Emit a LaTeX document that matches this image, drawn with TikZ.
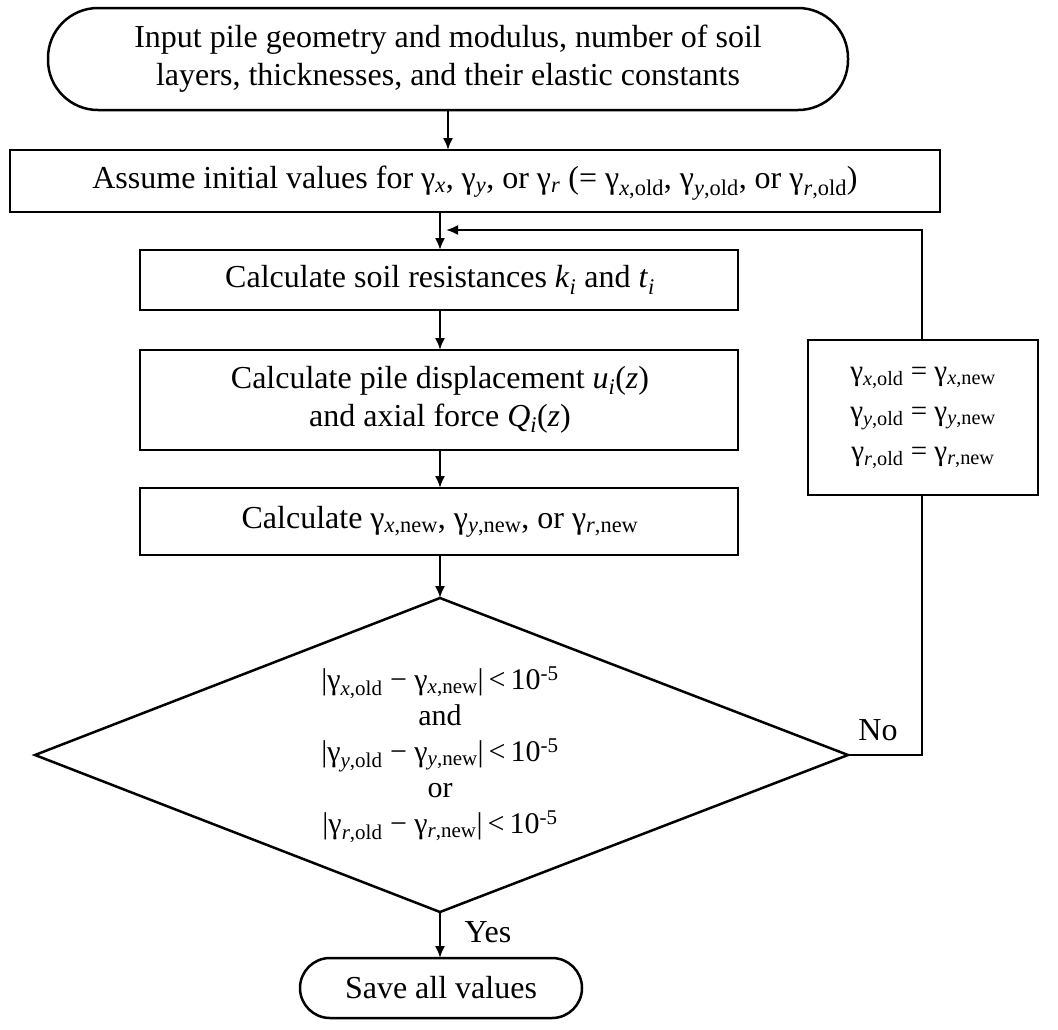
\documentclass[tikz,border=0pt]{standalone}
\usepackage{fontspec}
\setmainfont{Liberation Serif}
\usetikzlibrary{shapes.geometric,arrows.meta}
\newcommand{\gsub}[2]{γ\textsubscript{\textit{#1}#2}}
\newcommand{\sml}{\,<\,10\textsuperscript{-5}}
\begin{document}
\begin{tikzpicture}[x=1pt,y=-1pt,
  box/.style={draw,line width=2.5pt,inner sep=0pt},
  term/.style={draw,line width=2.5pt,rounded corners=30pt},
  arr/.style={line width=2pt,-{Latex[length=12pt,width=10pt]}},
  ln/.style={line width=2pt},
  txt/.style={font=\fontsize{32}{38}\selectfont,align=center}]
\useasboundingbox (0,0) rectangle (1058,1029);
\draw[term,rounded corners=50pt] (48,8) rectangle (848,110);
\node[txt] (n1) at (448,59) {Input pile geometry and modulus, number of soil\\layers, thicknesses, and their elastic constants};
\coordinate (b1) at (448,110);
\draw[box] (10,150) rectangle (940,212);
\node[txt] (n2) at (475,183) {Assume initial values for \gsub{x}{}, \gsub{y}{}, or \gsub{r}{} (= \gsub{x}{,old}, \gsub{y}{,old}, or \gsub{r}{,old})};
\coordinate (t2) at (448,150);
\coordinate (b2) at (440,212);
\draw[box] (140,250) rectangle (738,310);
\node[txt] (n3) at (440,280) {Calculate soil resistances \textit{k}\textsubscript{\textit{i}} and \textit{t}\textsubscript{\textit{i}}};
\draw[box] (140,350) rectangle (738,450);
\node[txt] (n4) at (440,400) {Calculate pile displacement \textit{u}\textsubscript{\textit{i}}(\textit{z})\\and axial force \textit{Q}\textsubscript{\textit{i}}(\textit{z})};
\draw[box] (140,488) rectangle (738,555);
\node[txt] (n5) at (440,522) {Calculate \gsub{x}{,new}, \gsub{y}{,new}, or \gsub{r}{,new}};
\draw[line width=2.5pt] (440,598) -- (848,755) -- (440,912) -- (35,755) -- cycle;
\node[txt,font=\fontsize{30}{36}\selectfont] (d) at (440,755) {|\gsub{x}{,old} − \gsub{x}{,new}|\sml\\and\\|\gsub{y}{,old} − \gsub{y}{,new}|\sml\\or\\|\gsub{r}{,old} − \gsub{r}{,new}|\sml};
\draw[box] (808,340) rectangle (1038,495);
\node[txt,font=\fontsize{29}{40}\selectfont] (s) at (923,418) {\gsub{x}{,old} = \gsub{x}{,new}\\\gsub{y}{,old} = \gsub{y}{,new}\\\gsub{r}{,old} = \gsub{r}{,new}};
\draw[term] (300,958) rectangle (582,1018);
\node[txt] (sv) at (441,988) {Save all values};
\draw[arr] (b1) -- (t2);
\draw[arr] (b2) -- (440,250);
\draw[arr] (440,310) -- (440,350);
\draw[arr] (440,450) -- (440,488);
\draw[arr] (440,555) -- (440,598);
\draw[arr] (440,912) -- (440,958);
\draw[ln] (848,755) -- (922,755) -- (922,495);
\draw[arr] (922,340) -- (922,230) -- (446,230);
\node[txt] (no) at (878,730) {No};
\node[txt] (yes) at (488,932) {Yes};
\end{tikzpicture}
\end{document}
